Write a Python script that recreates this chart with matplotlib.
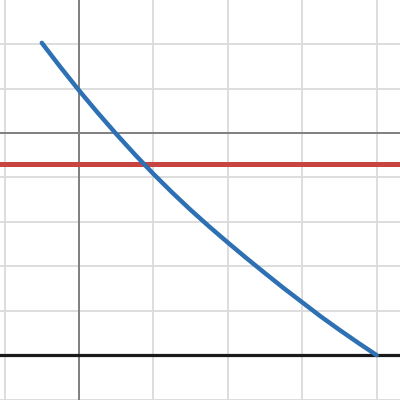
import matplotlib
matplotlib.use("Agg")
import matplotlib.pyplot as plt

# curve
curve_x = [-0.5, -0.25, 0, 0.25, 0.5, 0.75, 1, 1.25, 1.5, 1.75, 2,
           2.25, 2.5, 2.75, 3, 3.25, 3.5, 3.75, 4]
curve_y = [2.03, 1.485, 0.96, 0.46, -0.02, -0.48, -0.92, -1.335, -1.73,
           -2.105, -2.465, -2.815, -3.155, -3.49, -3.81, -4.13, -4.43,
           -4.72, -5.0]
red_level = -0.705
black_level = -5
grid_x = [-1, 0, 1, 2, 3, 4]
grid_y = [-6, -5, -4, -3, -2, -1, 0, 1, 2]

fig = plt.figure(figsize=(4, 4), dpi=100)
ax = fig.add_axes([0, 0, 1, 1])
ax.set_xlim(-1.062, 4.315)
ax.set_ylim(-6.01, 2.995)

for gx in grid_x:
    ax.axvline(gx, color="#dadada", lw=1.3, zorder=0)
for gy in grid_y:
    ax.axhline(gy, color="#dadada", lw=1.3, zorder=0)
ax.axvline(0, color="#808080", lw=1.4, zorder=1)
ax.axhline(0, color="#808080", lw=1.4, zorder=1)

ax.axhline(black_level, color="#1a1a1a", lw=2.3, zorder=2)
ax.axhline(red_level, color="#c74440", lw=3.6, zorder=3)
ax.plot(curve_x, curve_y, color="#2d70b3", lw=3.2, solid_capstyle="round",
        solid_joinstyle="round", zorder=4)

ax.set_xticks([])
ax.set_yticks([])
for s in ax.spines.values():
    s.set_visible(False)

fig.savefig("out.png", dpi=100)
